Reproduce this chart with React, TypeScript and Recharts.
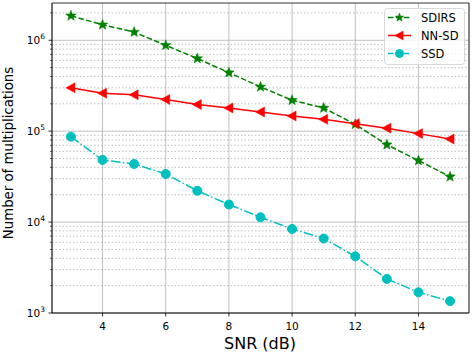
import { LineChart, Line, XAxis, YAxis, CartesianGrid, ReferenceLine, Legend, Label } from 'recharts'

const snr = [3, 4, 5, 6, 7, 8, 9, 10, 11, 12, 13, 14, 15]
const sdirs = [1.86e6, 1.48e6, 1.23e6, 8.8e5, 6.3e5, 4.4e5, 3.07e5, 2.19e5, 1.8e5, 1.19e5, 7.1e4, 4.75e4, 3.16e4]
const nnsd = [3.0e5, 2.62e5, 2.51e5, 2.23e5, 1.96e5, 1.8e5, 1.63e5, 1.47e5, 1.35e5, 1.21e5, 1.08e5, 9.4e4, 8.2e4]
const ssd = [8.7e4, 4.83e4, 4.36e4, 3.38e4, 2.21e4, 1.56e4, 1.13e4, 8.4e3, 6.6e3, 4.2e3, 2.37e3, 1.69e3, 1.35e3]

const xTicks = [4, 6, 8, 10, 12, 14]
const majorY = [1e3, 1e4, 1e5, 1e6]
const minorY = [
	2e3, 3e3, 4e3, 5e3, 6e3, 7e3, 8e3, 9e3,
	2e4, 3e4, 4e4, 5e4, 6e4, 7e4, 8e4, 9e4,
	2e5, 3e5, 4e5, 5e5, 6e5, 7e5, 8e5, 9e5,
	2e6,
]

const X_DOMAIN: [number, number] = [2.4, 15.6]
const Y_DOMAIN: [number, number] = [1000, 2.57e6]

const GREEN = '#008000'
const RED = '#ff0000'
const CYAN = '#00bfbf'
const GRID = '#b0b0b0'
const FONT = 'DejaVu Sans, sans-serif'

const data = snr.map((s, i) => ({ snr: s, sdirs: sdirs[i], nnsd: nnsd[i], ssd: ssd[i] }))

const starPath = (cx: number, cy: number, R: number) => {
	const r = R * 0.42
	let d = ''
	for (let k = 0; k < 10; k++) {
		const rad = k % 2 === 0 ? R : r
		const a = -Math.PI / 2 + (k * Math.PI) / 5
		d += (k === 0 ? 'M' : 'L') + (cx + rad * Math.cos(a)).toFixed(2) + ',' + (cy + rad * Math.sin(a)).toFixed(2)
	}
	return d + 'Z'
}

const Star = ({ cx, cy, r = 5.5, color = GREEN }: any) => <path d={starPath(cx, cy, r)} fill={color} stroke={color} strokeWidth={0.5} />
const TriLeft = ({ cx, cy, s = 5, color = RED }: any) => (
	<path d={`M${cx - s},${cy} L${cx + s * 0.8},${cy - s} L${cx + s * 0.8},${cy + s} Z`} fill={color} stroke={color} strokeWidth={0.5} />
)
const Circ = ({ cx, cy, r = 4.5, color = CYAN }: any) => <circle cx={cx} cy={cy} r={r} fill={color} stroke={color} />

const sup: Record<number, string> = { 3: '3', 4: '4', 5: '5', 6: '6' }

const YTick = ({ x, y, payload }: any) => {
	const v = payload.value as number
	const exp = Math.round(Math.log10(v))
	const major = Math.abs(Math.log10(v) - exp) < 1e-6
	if (!major) return <line x1={x} x2={x - 2} y1={y} y2={y} stroke='#000' strokeWidth={0.6} />
	return (
		<g>
			<line x1={x} x2={x - 3.5} y1={y} y2={y} stroke='#000' strokeWidth={0.8} />
			<text x={x - 7} y={y + 4} textAnchor='end' fontSize={10.5} fontFamily={FONT} fill='#000'>
				10
				<tspan dy={-5} fontSize={7.5}>{sup[exp]}</tspan>
			</text>
		</g>
	)
}

const XTick = ({ x, y, payload }: any) => (
	<g>
		<line x1={x} x2={x} y1={y} y2={y + 3.5} stroke='#000' strokeWidth={0.8} />
		<text x={x} y={y + 16.5} textAnchor='middle' fontSize={10.5} fontFamily={FONT} fill='#000'>
			{payload.value}
		</text>
	</g>
)

const legendItems = [
	{ name: 'SDIRS', color: GREEN, dash: '5.5 2.4', marker: 'star' },
	{ name: 'NN-SD', color: RED, dash: undefined, marker: 'tri' },
	{ name: 'SSD', color: CYAN, dash: '5.5 2.4', marker: 'circle' },
]

const LegendBox = () => (
	<svg width={81} height={57}>
		<rect x={0.5} y={0.5} width={80} height={56} rx={3} fill='rgba(255,255,255,0.8)' stroke='#d8d8d8' />
		{legendItems.map((it, i) => {
			const yy = 9.5 + i * 18
			return (
				<g key={it.name}>
					<line x1={4} x2={27} y1={yy} y2={yy} stroke={it.color} strokeWidth={1.5} strokeDasharray={it.dash} />
					{it.marker === 'star' && <Star cx={15.5} cy={yy} r={4.5} />}
					{it.marker === 'tri' && <TriLeft cx={15.5} cy={yy} s={4.5} />}
					{it.marker === 'circle' && <Circ cx={15.5} cy={yy} r={4} />}
					<text x={37} y={yy + 4} fontSize={11.5} fontFamily={FONT} fill='#000'>
						{it.name}
					</text>
				</g>
			)
		})}
	</svg>
)

export default function App() {
	return (
		<div style={{ position: 'absolute', left: 0, top: 0, width: 474, height: 353, background: '#fff' }}>
			<LineChart width={474} height={353} data={data} margin={{ top: 3, right: 5, bottom: 0, left: 0 }}>
				<CartesianGrid horizontal={false} stroke={GRID} strokeWidth={0.8} />
				{minorY.map((v) => (
					<ReferenceLine key={'m' + v} y={v} stroke={GRID} strokeWidth={0.8} strokeDasharray='1.5 2' />
				))}
				{majorY.map((v) => (
					<ReferenceLine key={'M' + v} y={v} stroke={GRID} strokeWidth={0.8} />
				))}
				<ReferenceLine y={Y_DOMAIN[1]} stroke='#000' strokeWidth={0.8} />
				<ReferenceLine x={X_DOMAIN[1]} stroke='#000' strokeWidth={0.8} />
				<XAxis
					dataKey='snr'
					type='number'
					domain={X_DOMAIN}
					ticks={xTicks}
					allowDataOverflow
					height={40}
					stroke='#000'
					tickLine={false}
					tickSize={0}
					tickMargin={0}
					tick={<XTick />}
				>
					<Label
						content={() => (
							<text x={260} y={349} textAnchor='middle' fontSize={16} fontFamily={FONT} fill='#000'>
								SNR (dB)
							</text>
						)}
					/>
				</XAxis>
				<YAxis
					scale='log'
					type='number'
					domain={Y_DOMAIN}
					ticks={[...majorY, ...minorY]}
					allowDataOverflow
					width={52}
					stroke='#000'
					tickLine={false}
					tickSize={0}
					tickMargin={0}
					tick={<YTick />}
					interval={0}
				>
					<Label
						content={() => (
							<text x={12.5} y={153} transform='rotate(-90 12.5 153)' textAnchor='middle' fontSize={13.3} fontFamily={FONT} fill='#000'>
								Number of multiplications
							</text>
						)}
					/>
				</YAxis>
				<Legend
					layout='vertical'
					align='center'
					verticalAlign='middle'
					wrapperStyle={{ position: 'absolute', left: 384, top: 8, width: 81, height: 57 }}
					content={() => <LegendBox />}
				/>
				<Line
					dataKey='sdirs'
					name='SDIRS'
					stroke={GREEN}
					strokeWidth={1.5}
					strokeDasharray='5.5 2.4'
					isAnimationActive={false}
					dot={(p: any) => <Star key={'s' + p.index} cx={p.cx} cy={p.cy} />}
				/>
				<Line
					dataKey='nnsd'
					name='NN-SD'
					stroke={RED}
					strokeWidth={1.5}
					isAnimationActive={false}
					dot={(p: any) => <TriLeft key={'t' + p.index} cx={p.cx} cy={p.cy} />}
				/>
				<Line
					dataKey='ssd'
					name='SSD'
					stroke={CYAN}
					strokeWidth={1.5}
					strokeDasharray='9.6 2.4 1.5 2.4'
					isAnimationActive={false}
					dot={(p: any) => <Circ key={'c' + p.index} cx={p.cx} cy={p.cy} />}
				/>
			</LineChart>
		</div>
	)
}
